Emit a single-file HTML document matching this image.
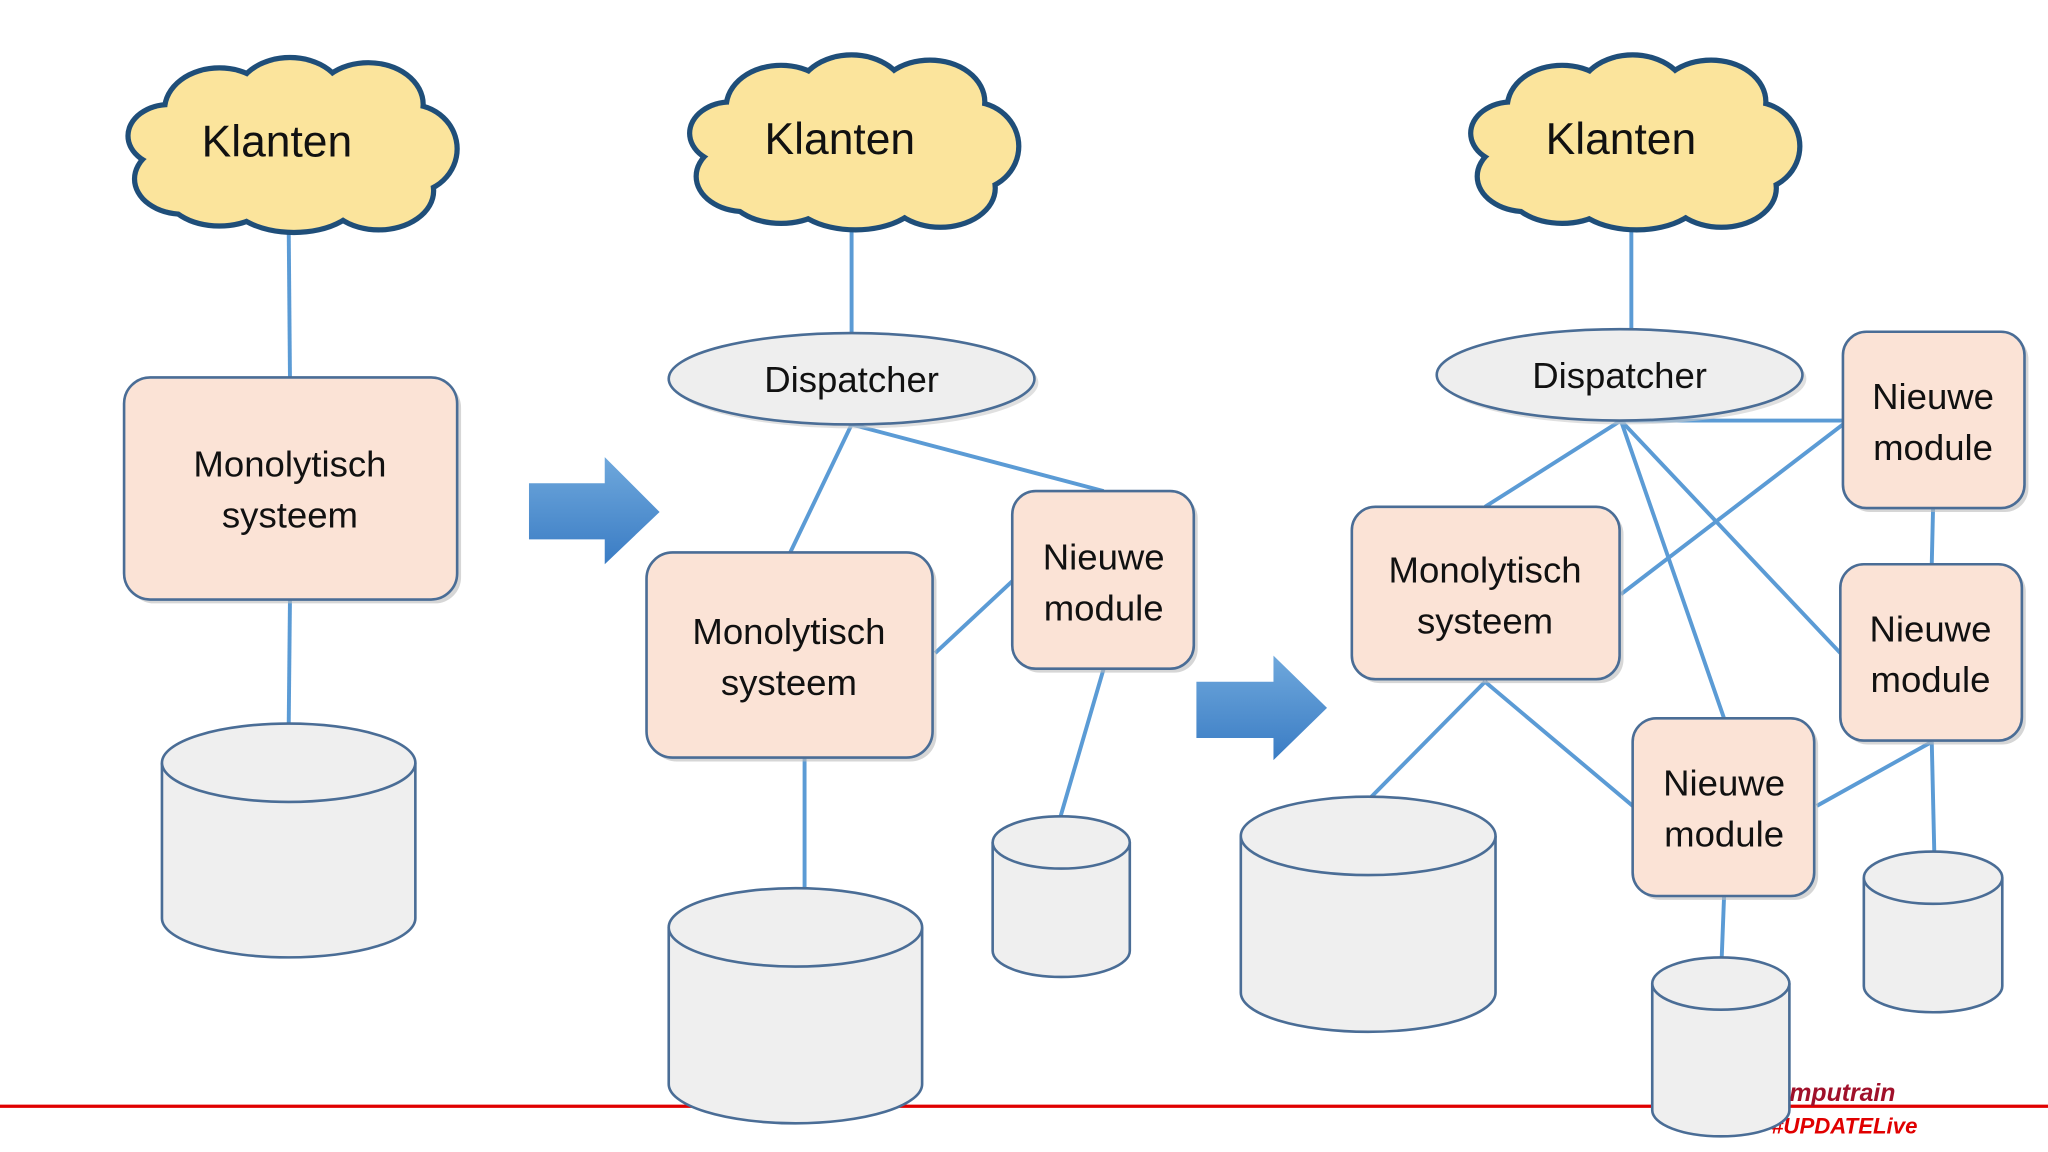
<!DOCTYPE html>
<html><head><meta charset="utf-8"><style>
html,body{margin:0;padding:0;background:#fff}
svg{display:block}
text{font-family:"Liberation Sans",sans-serif;fill:#111}
</style></head><body>
<svg width="2048" height="1152" viewBox="0 0 1568 882" preserveAspectRatio="none" xmlns="http://www.w3.org/2000/svg">
<defs>
<g id="cloud">
 <g fill="#1f4e79" stroke="#1f4e79" stroke-width="8">
  <ellipse cx="40" cy="62" rx="30" ry="22"/><ellipse cx="50" cy="95" rx="35" ry="25"/>
  <ellipse cx="78" cy="42" rx="40" ry="30"/><ellipse cx="132" cy="34" rx="40" ry="30"/>
  <ellipse cx="192" cy="38" rx="40" ry="30"/><ellipse cx="224" cy="72" rx="34" ry="32"/>
  <ellipse cx="200" cy="104" rx="40" ry="28"/><ellipse cx="135" cy="106" rx="50" ry="28"/>
  <ellipse cx="78" cy="104" rx="40" ry="25"/>
 </g>
 <g fill="#fbe49c">
  <ellipse cx="40" cy="62" rx="30" ry="22"/><ellipse cx="50" cy="95" rx="35" ry="25"/>
  <ellipse cx="78" cy="42" rx="40" ry="30"/><ellipse cx="132" cy="34" rx="40" ry="30"/>
  <ellipse cx="192" cy="38" rx="40" ry="30"/><ellipse cx="224" cy="72" rx="34" ry="32"/>
  <ellipse cx="200" cy="104" rx="40" ry="28"/><ellipse cx="135" cy="106" rx="50" ry="28"/>
  <ellipse cx="78" cy="104" rx="40" ry="25"/><ellipse cx="131" cy="70" rx="100" ry="50"/>
 </g>
</g>
<linearGradient id="ag" x1="0" y1="0" x2="0" y2="1"><stop offset="0" stop-color="#6fa8dc"/><stop offset="1" stop-color="#3a7cc4"/></linearGradient>
</defs>

<!-- connectors -->
<g stroke="#5b9bd5" stroke-width="3" fill="none">
 <line x1="221" y1="170" x2="222" y2="289"/><line x1="222" y1="459" x2="221" y2="560"/>
 <line x1="652" y1="170" x2="652" y2="255"/><line x1="652" y1="325" x2="605" y2="423"/>
 <line x1="652" y1="325" x2="845" y2="376"/><line x1="716" y1="500" x2="775" y2="445"/>
 <line x1="845" y1="512" x2="812" y2="625"/><line x1="616" y1="580" x2="616" y2="685"/>
 <line x1="1249" y1="170" x2="1249" y2="252"/>
 <line x1="1241" y1="322" x2="1137" y2="388"/><line x1="1241" y1="322" x2="1411" y2="322"/>
 <line x1="1241" y1="322" x2="1320" y2="550"/><line x1="1241" y1="322" x2="1409" y2="500"/>
 <line x1="1241" y1="455" x2="1411" y2="325"/><line x1="1480" y1="389" x2="1479" y2="432"/>
 <line x1="1137" y1="522" x2="1048" y2="612"/><line x1="1137" y1="522" x2="1250" y2="617"/>
 <line x1="1391" y1="617" x2="1479" y2="568"/><line x1="1479" y1="568" x2="1481" y2="655"/>
 <line x1="1320" y1="686" x2="1318" y2="738"/>
</g>

<!-- clouds -->
<use href="#cloud" x="90" y="42"/>
<use href="#cloud" x="520" y="40"/>
<use href="#cloud" x="1118" y="40"/>
<text x="212" y="120" font-size="34" text-anchor="middle">Klanten</text>
<text x="643" y="118" font-size="34" text-anchor="middle">Klanten</text>
<text x="1241" y="118" font-size="34" text-anchor="middle">Klanten</text>

<!-- dispatchers -->
<g fill="#eeeeee" stroke="#4a6d96" stroke-width="2">
 <ellipse cx="655" cy="293" rx="140" ry="35" fill="#ccc" stroke="none" opacity=".6"/>
 <ellipse cx="652" cy="290" rx="140" ry="35"/>
 <ellipse cx="1243" cy="290" rx="140" ry="35" fill="#ccc" stroke="none" opacity=".6"/>
 <ellipse cx="1240" cy="287" rx="140" ry="35"/>
</g>
<text x="652" y="300" font-size="28" text-anchor="middle">Dispatcher</text>
<text x="1240" y="297" font-size="28" text-anchor="middle">Dispatcher</text>

<!-- boxes -->
<g stroke="#4a6d96" stroke-width="2" fill="#fbe3d6">
 <rect x="98" y="292" width="255" height="170" rx="20" fill="#bbb" stroke="none" opacity=".6"/>
 <rect x="95" y="289" width="255" height="170" rx="20"/>
 <rect x="498" y="426" width="219" height="157" rx="20" fill="#bbb" stroke="none" opacity=".6"/>
 <rect x="495" y="423" width="219" height="157" rx="20"/>
 <rect x="778" y="379" width="139" height="136" rx="18" fill="#bbb" stroke="none" opacity=".6"/>
 <rect x="775" y="376" width="139" height="136" rx="18"/>
 <rect x="1038" y="391" width="205" height="132" rx="18" fill="#bbb" stroke="none" opacity=".6"/>
 <rect x="1035" y="388" width="205" height="132" rx="18"/>
 <rect x="1414" y="257" width="139" height="135" rx="18" fill="#bbb" stroke="none" opacity=".6"/>
 <rect x="1411" y="254" width="139" height="135" rx="18"/>
 <rect x="1412" y="435" width="139" height="135" rx="18" fill="#bbb" stroke="none" opacity=".6"/>
 <rect x="1409" y="432" width="139" height="135" rx="18"/>
 <rect x="1253" y="553" width="139" height="136" rx="18" fill="#bbb" stroke="none" opacity=".6"/>
 <rect x="1250" y="550" width="139" height="136" rx="18"/>
</g>
<g font-size="28" text-anchor="middle">
 <text x="222" y="365">Monolytisch</text><text x="222" y="404">systeem</text>
 <text x="604" y="493">Monolytisch</text><text x="604" y="532">systeem</text>
 <text x="845" y="436">Nieuwe</text><text x="845" y="475">module</text>
 <text x="1137" y="446">Monolytisch</text><text x="1137" y="485">systeem</text>
 <text x="1480" y="313">Nieuwe</text><text x="1480" y="352">module</text>
 <text x="1478" y="491">Nieuwe</text><text x="1478" y="530">module</text>
 <text x="1320" y="609">Nieuwe</text><text x="1320" y="648">module</text>
</g>

<!-- arrows -->
<polygon points="405,370 463,370 463,350 505,392 463,432 463,413 405,413" fill="url(#ag)"/>
<polygon points="916,522 975,522 975,502 1016,542 975,582 975,565 916,565" fill="url(#ag)"/>

<!-- red line and logo -->
<line x1="0" y1="847" x2="1568" y2="847" stroke="#e00000" stroke-width="2.5"/>
<circle cx="1325" cy="848" r="18" fill="#c00000"/>
<text x="1370" y="843" font-size="19" font-weight="bold" font-style="italic" style="fill:#a0102a">mputrain</text>
<text x="1356" y="868" font-size="17" font-weight="bold" font-style="italic" style="fill:#e00000">#UPDATELive</text>

<!-- cylinders -->
<g stroke="#4a6d96" stroke-width="2" fill="#efefef">
 <path d="M124,584 V703 A97,30 0 0 0 318,703 V584" />
 <ellipse cx="221" cy="584" rx="97" ry="30"/>
 <path d="M512,710 V830 A97,30 0 0 0 706,830 V710"/>
 <ellipse cx="609" cy="710" rx="97" ry="30"/>
 <path d="M760,645 V728 A52.5,20 0 0 0 865,728 V645"/>
 <ellipse cx="812.5" cy="645" rx="52.5" ry="20"/>
 <path d="M950,640 V760 A97.5,30 0 0 0 1145,760 V640"/>
 <ellipse cx="1047.5" cy="640" rx="97.5" ry="30"/>
 <path d="M1265,753 V850 A52.5,20 0 0 0 1370,850 V753"/>
 <ellipse cx="1317.5" cy="753" rx="52.5" ry="20"/>
 <path d="M1427,672 V755 A53,20 0 0 0 1533,755 V672"/>
 <ellipse cx="1480" cy="672" rx="53" ry="20"/>
</g>
</svg>
</body></html>
